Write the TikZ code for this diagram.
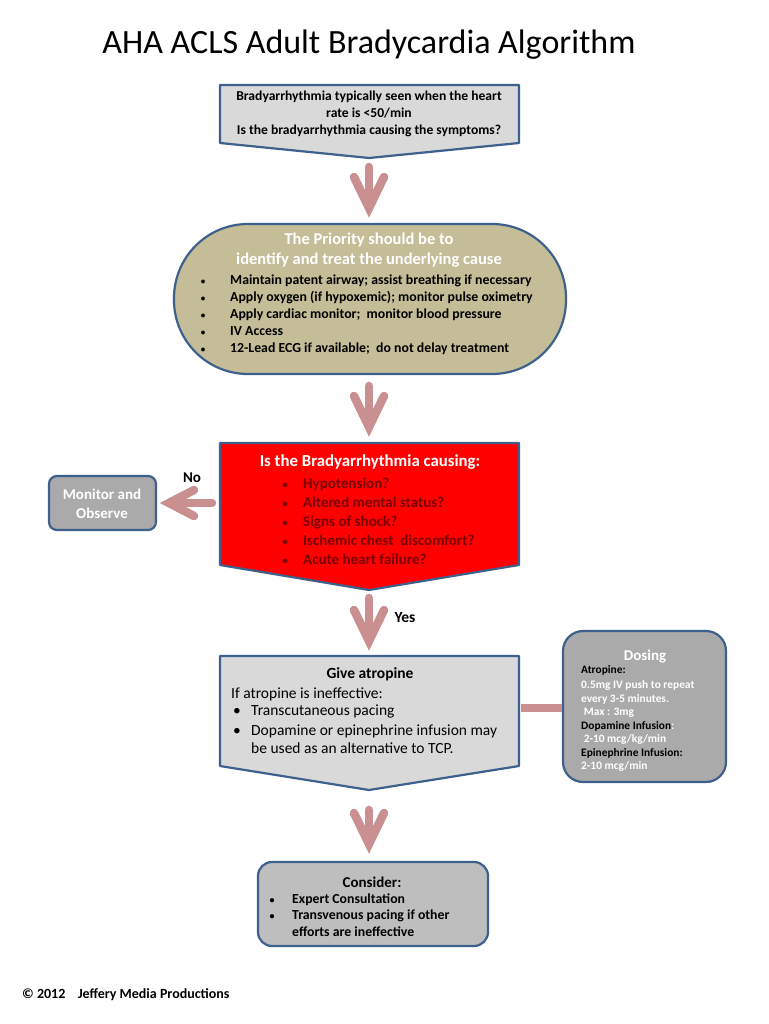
\documentclass[tikz,border=0pt]{standalone}
\usepackage{fontspec}
\setmainfont{Carlito}
\usetikzlibrary{calc}
\definecolor{bord}{RGB}{62,96,140}
\definecolor{lightg}{RGB}{217,217,217}
\definecolor{tanc}{RGB}{196,189,151}
\definecolor{redc}{RGB}{255,0,0}
\definecolor{darkred}{RGB}{120,0,0}
\definecolor{arrowc}{RGB}{201,143,145}
\definecolor{grayA}{RGB}{170,170,170}
\definecolor{grayB}{RGB}{190,190,190}
\newcommand\fsz[1]{\fontsize{#1}{#1}\selectfont}
\newcommand\dnarr[2]{%
  \draw[arrowline] (#1) -- ($(#2)+(0,-14)$);
  \draw[arrowline, line join=miter] ($(#2)+(-15,-40)$) -- ($(#2)+(0,-9)$) -- ($(#2)+(15,-40)$);}
\begin{document}
\begin{tikzpicture}[x=1pt,y=-1pt,
  box/.style={draw=bord, line width=2.2pt, line join=round},
  txt/.style={inner sep=0pt, anchor=base},
  ltxt/.style={inner sep=0pt, anchor=base west},
  bul/.style={inner sep=0pt, anchor=base},
  arrowline/.style={draw=arrowc, line width=8.5pt, line cap=round}]
\useasboundingbox[fill=white] (0,0) rectangle (768,1024);

% title
\node[txt] (title) at (369,54) {\fsz{34}AHA ACLS Adult Bradycardia Algorithm};

% box 1
\draw[box, fill=lightg] (220,85) -- (519,85) -- (519,143) -- (369,158) -- (220,143) -- cycle;
\coordinate (b1bot) at (369,158);
\node[txt] (b1a) at (369,101) {\fsz{13.6}\bfseries Bradyarrhythmia typically seen when the heart};
\node[txt] (b1b) at (369,118) {\fsz{13.6}\bfseries rate is <50/min};
\node[txt] (b1c) at (369,135) {\fsz{13.6}\bfseries Is the bradyarrhythmia causing the symptoms?};

% oval
\draw[box, fill=tanc, rounded corners=74pt] (174,224) rectangle (566,374);
\coordinate (ovtop) at (369,224);
\coordinate (ovbot) at (369,374);
\node[txt, text=white] (ova) at (369,244) {\fsz{16.5}\bfseries The Priority should be to};
\node[txt, text=white] (ovb) at (369,264) {\fsz{16.5}\bfseries identify and treat the underlying cause};
\foreach \y/\t [count=\i] in {284/{Maintain patent airway; assist breathing if necessary},
  301/{Apply oxygen (if hypoxemic); monitor pulse oximetry},
  318/{Apply cardiac monitor;\ \ monitor blood pressure},
  335/{IV Access},
  352/{12-Lead ECG if available;\ \ do not delay treatment}}{
  \node[bul] (ovbul\i) at (203,\y) {\fsz{9}\bfseries •};
  \node[ltxt] (ovl\i) at (230,\y) {\fsz{13.8}\bfseries \t};
}

% red box
\draw[box, fill=redc] (220,443) -- (519,443) -- (519,565) -- (369,590) -- (220,565) -- cycle;
\coordinate (rdtop) at (369,443);
\coordinate (rdbot) at (369,590);
\coordinate (rdleft) at (220,503);
\node[txt, text=white] (rda) at (370,466) {\fsz{16.8}\bfseries Is the Bradyarrhythmia causing:};
\foreach \y/\t [count=\i] in {488/{Hypotension?},507/{Altered mental status?},526/{Signs of shock?},545/{Ischemic chest\ \ discomfort?},564/{Acute heart failure?}}{
  \node[bul, text=darkred] (rdbul\i) at (285,\y) {\fsz{11}\bfseries •};
  \node[ltxt, text=darkred] (rdl\i) at (303,\y) {\fsz{15}\bfseries \t};
}

% monitor box
\draw[box, fill=grayA, rounded corners=8pt] (49,476) rectangle (156,530);
\coordinate (monright) at (156,503);
\node[txt, text=white] (mona) at (102,499) {\fsz{15}\bfseries Monitor and};
\node[txt, text=white] (monb) at (102,518) {\fsz{15}\bfseries Observe};

% No arrow
\draw[arrowline] ($(rdleft)+(-8,0)$) -- ($(monright)+(18,0)$);
\draw[arrowline, line join=miter] ($(monright)+(38,-13)$) -- ($(monright)+(13,0)$) -- ($(monright)+(38,13)$);
\node[txt] (no) at (192,482) {\fsz{15}\bfseries No};

% atropine box
\draw[box, fill=lightg] (220,656) -- (519,656) -- (519,766) -- (369,790) -- (220,766) -- cycle;
\coordinate (attop) at (369,656);
\coordinate (atbot) at (369,790);
\coordinate (atright) at (519,708);
\node[txt] (ata) at (370,678) {\fsz{15.5}\bfseries Give atropine};
\node[ltxt] (atb) at (231,698) {\fsz{15.5}If atropine is ineffective:};
\node[bul] (atbul1) at (237,715) {\fsz{15.5}•};
\node[ltxt] (atc) at (251,715) {\fsz{15.5}Transcutaneous pacing};
\node[bul] (atbul2) at (237,735) {\fsz{15.5}•};
\node[ltxt] (atd) at (251,735) {\fsz{15.5}Dopamine or epinephrine infusion may};
\node[ltxt] (ate) at (251,753) {\fsz{15.5}be used as an alternative to TCP.};

% Yes
\node[txt] (yes) at (405,622) {\fsz{15.5}\bfseries Yes};

% dosing box
\draw[box, fill=grayA, rounded corners=20pt] (563,631) rectangle (726,782);
\coordinate (dosleft) at (563,708);
\draw[draw=arrowc, line width=8pt] ($(atright)+(1.5,0)$) -- ($(dosleft)+(-1.5,0)$);
\node[txt, text=white] (dosa) at (645,660) {\fsz{15}\bfseries Dosing};
\node[ltxt] (dos1) at (581,673) {\fsz{11.4}\bfseries Atropine:};
\node[ltxt, text=white] (dos2) at (581,688) {\fsz{11.4}\bfseries 0.5mg IV push to repeat};
\node[ltxt, text=white] (dos3) at (581,702) {\fsz{11.4}\bfseries every 3-5 minutes.};
\node[ltxt, text=white] (dos4) at (581,715) {\fsz{11.4}\bfseries \ Max : 3mg};
\node[ltxt] (dos5) at (581,729) {\fsz{11.4}\bfseries Dopamine Infusion\textcolor{white}{:}};
\node[ltxt, text=white] (dos6) at (581,742) {\fsz{11.4}\bfseries \ 2-10 mcg/kg/min};
\node[ltxt] (dos7) at (581,756) {\fsz{11.4}\bfseries Epinephrine Infusion:};
\node[ltxt, text=white] (dos8) at (581,769) {\fsz{11.4}\bfseries 2-10 mcg/min};

% consider box
\draw[box, fill=grayB, rounded corners=14pt] (258,862) rectangle (488,946);
\coordinate (contop) at (369,862);
\node[txt] (cona) at (372,887) {\fsz{15}\bfseries Consider:};
\node[bul] (conbul1) at (272,903) {\fsz{10}\bfseries •};
\node[ltxt] (conb) at (292,903) {\fsz{13.8}\bfseries Expert Consultation};
\node[bul] (conbul2) at (272,919) {\fsz{10}\bfseries •};
\node[ltxt] (conc) at (292,919) {\fsz{13.8}\bfseries Transvenous pacing if other};
\node[ltxt] (cond) at (292,936) {\fsz{13.8}\bfseries efforts are ineffective};

% vertical arrows
\dnarr{$(b1bot)+(0,9)$}{$(ovtop)+(0,-7)$}
\dnarr{$(ovbot)+(0,12)$}{$(rdtop)+(0,-7)$}
\dnarr{$(rdbot)+(0,8)$}{$(attop)+(0,-6)$}
\dnarr{$(atbot)+(0,20)$}{$(contop)+(0,-9)$}

% copyright
\node[ltxt] (copy) at (22,998) {\fsz{14}\bfseries © 2012\ \ \ \ Jeffery Media Productions};
\end{tikzpicture}
\end{document}
